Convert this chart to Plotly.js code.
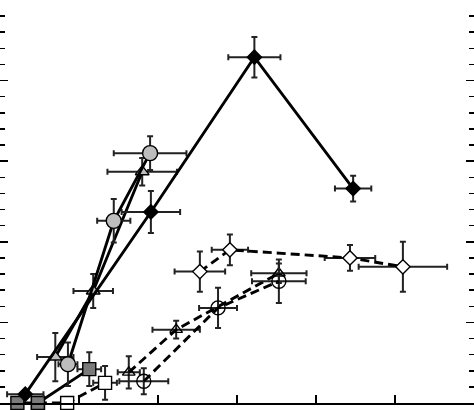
<!DOCTYPE html>
<html><head><meta charset="utf-8">
<script src="https://cdn.plot.ly/plotly-3.0.1.min.js"></script>
<style>html,body{margin:0;padding:0;background:#fff;overflow:hidden}#c{width:474px;height:410px}</style>
</head><body><div id="c"></div>
<script>
// Black filled diamonds (solid)
var dX = [0.32, 1.91, 3.22, 4.47];
var dY = [0.11, 2.37, 4.29, 2.66];
var dXe = [0.23, 0.37, 0.33, 0.23];
var dYe = [0.05, 0.26, 0.25, 0.16];
// Gray filled circles (solid)
var cX = [0.86, 1.44, 1.90];
var cY = [0.48, 2.26, 3.10];
var cXe = [0.12, 0.21, 0.46];
var cYe = [0.27, 0.27, 0.21];
// Gray filled triangles (solid)
var tX = [0.70, 1.18, 1.80];
var tY = [0.57, 1.39, 2.87];
var tXe = [0.23, 0.25, 0.44];
var tYe = [0.30, 0.21, 0.17];
// Dark gray squares (solid)
var sX = [0.22, 0.48, 1.13];
var sY = [0.00, 0.00, 0.42];
var sXe = [0.00, 0.00, 0.15];
var sYe = [0.00, 0.00, 0.21];
// White squares (dashed)
var wsX = [0.48, 0.85, 1.33];
var wsY = [0.00, 0.00, 0.25];
var wsXe = [0.00, 0.00, 0.15];
var wsYe = [0.00, 0.00, 0.21];
// Open triangles (dashed)
var otX = [1.63, 2.23, 3.53];
var otY = [0.38, 0.91, 1.61];
var otXe = [0.14, 0.30, 0.35];
var otYe = [0.20, 0.11, 0.12];
// Open circles (dashed)
var ocX = [1.82, 2.76, 3.53];
var ocY = [0.27, 1.18, 1.51];
var ocXe = [0.31, 0.24, 0.34];
var ocYe = [0.16, 0.25, 0.27];
// Open diamonds (dashed)
var odX = [2.53, 2.91, 4.43, 5.10];
var odY = [1.63, 1.90, 1.80, 1.69];
var odXe = [0.32, 0.23, 0.32, 0.56];
var odYe = [0.25, 0.19, 0.16, 0.31];

var xTicks = [1, 2, 3, 4, 5];

function tr(x, y, xe, ye, sym, size, fill, dash) {
  return {
    x: x, y: y, type: 'scatter', mode: 'lines+markers', cliponaxis: false,
    line: {color: '#000', width: 2.9, dash: dash ? '9px,5px' : 'solid'},
    marker: {symbol: sym, size: size, color: fill, line: {color: '#000', width: 1.4}},
    error_x: {type: 'data', array: xe, visible: true, thickness: 2, width: 3, color: '#222'},
    error_y: {type: 'data', array: ye, visible: true, thickness: 2, width: 3, color: '#222'},
    showlegend: false, hoverinfo: 'skip'
  };
}

var data = [
  tr(wsX, wsY, wsXe, wsYe, 'square', 13, '#fff', true),
  tr(otX, otY, otXe, otYe, 'triangle-up', 11, 'rgba(255,255,255,0)', true),
  tr(ocX, ocY, ocXe, ocYe, 'circle', 14, 'rgba(255,255,255,0)', true),
  tr(odX, odY, odXe, odYe, 'diamond', 11, '#fff', true),
  tr(sX, sY, sXe, sYe, 'square', 13, '#7a7a7a', false),
  tr(tX, tY, tXe, tYe, 'triangle-up', 12, '#bdbdbd', false),
  tr(cX, cY, cXe, cYe, 'circle', 15, '#bdbdbd', false),
  tr(dX, dY, dXe, dYe, 'diamond', 11, '#000', false)
];

var layout = {
  width: 474, height: 410,
  margin: {l: 0, r: 0, t: 0, b: 7, pad: 0},
  paper_bgcolor: '#fff', plot_bgcolor: '#fff',
  xaxis: {range: [0, 6], showgrid: false, zeroline: false, showticklabels: false,
          showline: true, linecolor: '#000', linewidth: 2,
          ticks: 'inside', tickmode: 'array', tickvals: xTicks, ticklen: 8, tickwidth: 1.5, tickcolor: '#000'},
  yaxis: {range: [0, 5], showgrid: false, zeroline: false, showticklabels: false,
          showline: true, linecolor: '#ddd', linewidth: 2, mirror: 'ticks',
          ticks: 'inside', tickmode: 'linear', tick0: 0, dtick: 1, ticklen: 8, tickwidth: 1.5, tickcolor: '#000',
          minor: {ticks: 'inside', dtick: 0.2, tick0: 0, ticklen: 5, tickwidth: 1.5, tickcolor: '#000', showgrid: false}}
};

Plotly.newPlot('c', data, layout, {staticPlot: true, displayModeBar: false});
</script>
</body></html>
